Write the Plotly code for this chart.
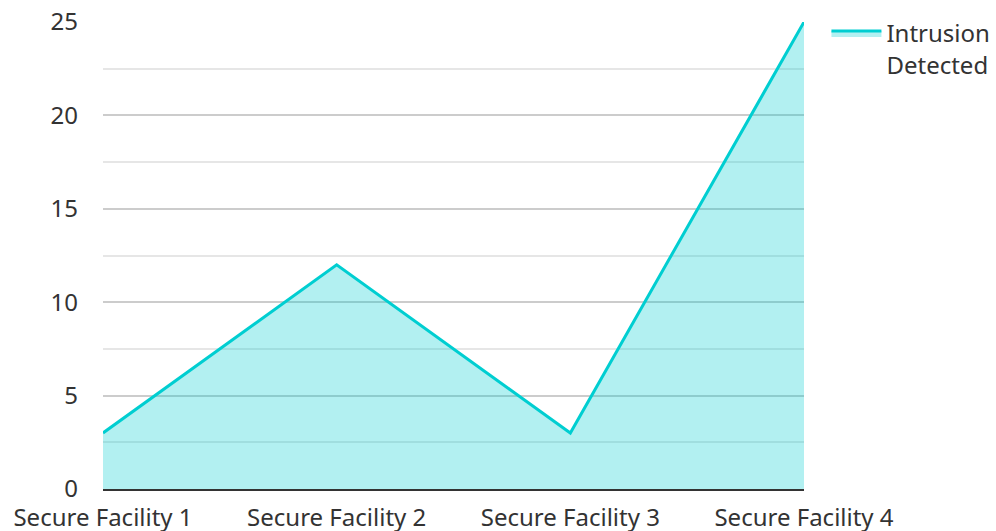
import plotly.graph_objects as go

categories = ["Secure Facility 1", "Secure Facility 2", "Secure Facility 3", "Secure Facility 4"]
intrusions = [3, 12, 3, 25]
series_name = "Intrusion<br>Detected"

fig = go.Figure()
fig.add_trace(go.Scatter(
    x=categories, y=intrusions, name=series_name,
    mode="lines", fill="tozeroy",
    line=dict(color="#00CED1", width=3),
    fillcolor="rgba(0,206,209,0.3)",
    showlegend=True,
))

fig.update_layout(
    width=996, height=531,
    margin=dict(l=103, r=192, t=22, b=42, autoexpand=False),
    paper_bgcolor="white", plot_bgcolor="white",
    font=dict(family="Noto Sans", size=24, color="#333333"),
    legend=dict(x=1.032, y=1.0236, xanchor="left", yanchor="top",
                valign="top", font=dict(size=24, color="#333333"), itemwidth=50),
    xaxis=dict(range=[0, 3], showgrid=False, showline=True, linecolor="#333333",
               linewidth=2, ticks="", ticklabelstandoff=6, zeroline=False, automargin=False),
    yaxis=dict(range=[0, 25], dtick=5, showgrid=True, gridcolor="#cccccc",
               gridwidth=1.5, zeroline=False, ticks="", ticklabelstandoff=24, automargin=False,
               minor=dict(dtick=2.5, showgrid=True, gridcolor="#e6e6e6", gridwidth=1.5)),
)

# remove the default 8px body margin so the figure sits at the page's top-left corner
fig.write_html("out.html", config={"displayModeBar": False},
               post_script="document.body.style.margin='0';document.body.style.padding='0';")
